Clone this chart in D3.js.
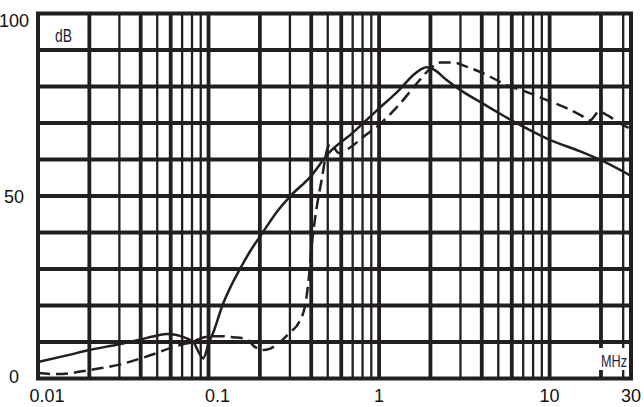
<!DOCTYPE html>
<html><head><meta charset="utf-8">
<script src="https://cdn.jsdelivr.net/npm/d3@7/dist/d3.min.js"></script>
<style>body{margin:0;background:#fff}svg{display:block}</style>
</head><body><svg id="c" width="644" height="407"></svg>
<script>
// ---- data ----
const solidFreq = [0.01,0.015,0.02,0.03,0.04,0.05,0.057,0.065,0.075,0.082,0.088,0.093,0.1,0.107,0.121,0.135,0.152,0.175,0.207,0.25,0.298,0.405,0.5,0.7,1.0,1.31,1.6,1.9,2.1,2.5,3.0,4.0,5.0,7.0,10,15,20,30];
const solidDb   = [4.5,6.4,7.8,9.4,10.7,11.8,12.2,11.9,10.9,9.8,7.0,5.5,9.5,12.8,20.2,25.2,29.8,34.8,39.9,45.5,49.7,55.8,61.5,67.3,74.0,79.0,83.3,85.3,84.6,81.7,79.0,75.5,72.8,69.0,65.4,62.3,59.8,55.5];
const dashFreq  = [0.01,0.013,0.02,0.03,0.04,0.05,0.06,0.07,0.08,0.09,0.1,0.12,0.14,0.167,0.185,0.207,0.23,0.25,0.298,0.34,0.37,0.39,0.40,0.428,0.464,0.496,0.52,0.58,0.686,0.8,1.0,1.31,1.71,2.04,2.3,2.67,3.36,4.22,5.53,7.24,9.48,12.4,16.2,17.2,19.5,22,25,30];
const dashDb    = [1.5,1.2,2.3,3.8,5.5,7.0,8.4,9.3,10.0,11.0,11.5,11.6,11.3,10.8,8.8,7.8,8.2,9.2,12.5,15.5,20.5,29,35,46,55.3,62.8,64.3,61.8,63.5,66,69.5,75,81.5,85.3,86.6,86.6,85.2,83.3,80.5,78.6,76.4,74.2,71.4,70.7,73.1,72.0,70.3,68.3];
const xTickValues = [0.01,0.1,1,10,30];
const xTickLabels = ["0.01","0.1","1","10","30"];
const yTickValues = [0,50,100];
const yTickLabels = ["0","50","100"];
const xGridMajor = [0.02,0.04,0.06,0.1,0.2,0.4,0.6,1,2,4,6,10,20];
const xGridMinor = [0.03,0.05,0.07,0.08,0.09,0.3,0.5,0.7,0.8,0.9,3,5,7,8,9,27];
const yGrid = [10,20,30,40,50,60,70,80,90];
const xUnit = "MHz", yUnit = "dB";

// ---- layout ----
const ink = "#231f20";
const svg = d3.select("#c");
const x = d3.scaleLog().domain([0.01,30]).range([38,631]);
const y = d3.scaleLinear().domain([0,100]).range([378.5,13.5]);

const g = svg.append("g");
g.selectAll(".hg").data(yGrid).join("line")
  .attr("x1",x(0.01)).attr("x2",x(30)).attr("y1",d=>y(d)).attr("y2",d=>y(d))
  .attr("stroke",ink).attr("stroke-width",3.8);
g.selectAll(".vmin").data(xGridMinor).join("line")
  .attr("x1",d=>x(d)).attr("x2",d=>x(d)).attr("y1",y(0)).attr("y2",y(100))
  .attr("stroke",ink).attr("stroke-width",2.3);
g.selectAll(".vmaj").data(xGridMajor).join("line")
  .attr("x1",d=>x(d)).attr("x2",d=>x(d)).attr("y1",y(0)).attr("y2",y(100))
  .attr("stroke",ink).attr("stroke-width",3.8);

// unit label MHz with white background
svg.append("rect").attr("x",597).attr("y",348).attr("width",31).attr("height",22).attr("fill","#fff");
svg.append("text").attr("x",601).attr("y",367).text(xUnit)
  .attr("font-family","'Liberation Sans Narrow','Liberation Sans',Arial,sans-serif")
  .attr("font-size",16.5).attr("fill","#1c1c3a")
  .attr("textLength",26).attr("lengthAdjust","spacingAndGlyphs");
svg.append("text").attr("x",55).attr("y",41.5).text(yUnit)
  .attr("font-family","'Liberation Sans Narrow','Liberation Sans',Arial,sans-serif")
  .attr("font-size",18).attr("fill","#1c1c3a")
  .attr("textLength",17).attr("lengthAdjust","spacingAndGlyphs");

// border
svg.append("rect").attr("x",x(0.01)).attr("y",y(100))
  .attr("width",x(30)-x(0.01)).attr("height",y(0)-y(100))
  .attr("fill","none").attr("stroke",ink).attr("stroke-width",4);

// curves
const line = d3.line().x(d=>x(d[0])).y(d=>y(d[1])).curve(d3.curveMonotoneX);
svg.append("path").attr("d",line(d3.zip(solidFreq,solidDb)))
  .attr("fill","none").attr("stroke",ink).attr("stroke-width",2.5);
svg.append("path").attr("d",line(d3.zip(dashFreq,dashDb)))
  .attr("fill","none").attr("stroke",ink).attr("stroke-width",2.5)
  .attr("stroke-dasharray","12,6");

// tick labels
const font = "'Liberation Sans',Arial,sans-serif";
svg.selectAll(".xl").data(xTickValues).join("text")
  .attr("x",(d,i)=>x(d)+(xTickLabels[i].includes(".")?9:0)).attr("y",401.5)
  .attr("text-anchor","middle").attr("font-family",font).attr("font-size",18).attr("fill","#111")
  .text((d,i)=>xTickLabels[i]);
svg.selectAll(".yl").data(yTickValues).join("text")
  .attr("x",14).attr("y",d=>Math.min(383,Math.max(27,y(d)+6.5)))
  .attr("text-anchor","middle").attr("font-family",font).attr("font-size",18).attr("fill","#111")
  .text((d,i)=>yTickLabels[i]);
</script></body></html>
